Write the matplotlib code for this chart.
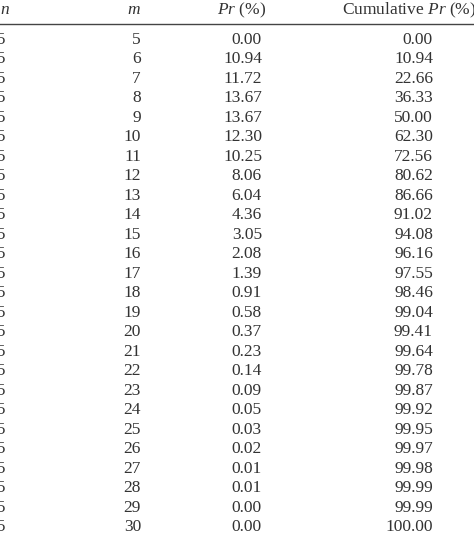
import matplotlib.pyplot as plt

plt.rcParams['mathtext.fontset'] = 'custom'
plt.rcParams['mathtext.rm'] = 'Liberation Serif'
plt.rcParams['mathtext.it'] = 'Liberation Serif:italic'

m_vals = list(range(5, 31))
pr = [0.00, 10.94, 11.72, 13.67, 13.67, 12.30, 10.25, 8.06, 6.04, 4.36, 3.05, 2.08,
      1.39, 0.91, 0.58, 0.37, 0.23, 0.14, 0.09, 0.05, 0.03, 0.02, 0.01, 0.01, 0.00, 0.00]
cum = [0.00, 10.94, 22.66, 36.33, 50.00, 62.30, 72.56, 80.62, 86.66, 91.02, 94.08, 96.16,
       97.55, 98.46, 99.04, 99.41, 99.64, 99.78, 99.87, 99.92, 99.95, 99.97, 99.98, 99.99,
       99.99, 100.00]
n_vals = [25] * len(m_vals)

W, H = 474, 539
fig = plt.figure(figsize=(W / 100, H / 100), dpi=100)
ax = fig.add_axes([0, 0, 1, 1])
ax.set_xlim(0, W)
ax.set_ylim(H, 0)
ax.axis('off')

font = dict(family='Liberation Serif', fontsize=12.5, color='#333333', va='center')

# header
ax.text(9, 10, 'n', ha='right', style='italic', **font)
ax.text(140, 10, 'm', ha='right', style='italic', **font)
ax.text(266, 10, r'$\it{Pr}$ (%)', ha='right', **font)
ax.text(476, 10, r'Cumulative $\it{Pr}$ (%)', ha='right', **font)
ax.plot([0, W], [24, 24], color='#444444', lw=1)

y0, dy = 40, 19.48
for i, (n, m, p, c) in enumerate(zip(n_vals, m_vals, pr, cum)):
    y = y0 + i * dy
    ax.text(6, y, str(n), ha='right', **font)
    ax.text(141, y, str(m), ha='right', **font)
    ax.text(262, y, f'{p:.2f}', ha='right', **font)
    ax.text(433, y, f'{c:.2f}', ha='right', **font)

fig.savefig('out.png', dpi=100, facecolor='white')
